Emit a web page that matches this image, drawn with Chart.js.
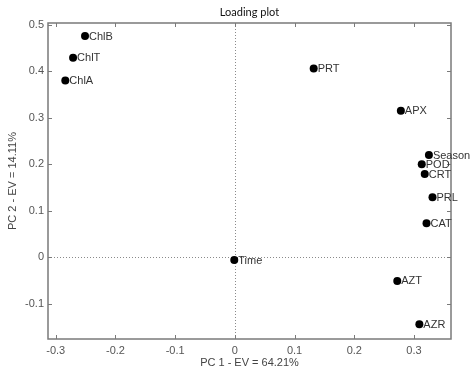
<!DOCTYPE html>
<html>
<head>
<meta charset="utf-8">
<script src="https://cdn.jsdelivr.net/npm/chart.js@4.4.0/dist/chart.umd.min.js"></script>
<style>
  html, body { margin: 0; padding: 0; background: #fff; }
  #wrap { width: 474px; height: 374px; }
</style>
</head>
<body>
<div id="wrap"><canvas id="chart" width="474" height="374"></canvas></div>
<script>
// variables del loading plot
const varNames = ['ChlB', 'ChlT', 'ChlA', 'PRT', 'APX', 'Season', 'POD', 'CRT', 'PRL', 'CAT', 'Time', 'AZT', 'AZR'];
const pc1 = [-0.251, -0.271, -0.284, 0.132, 0.278, 0.325, 0.313, 0.318, 0.331, 0.321, -0.001, 0.272, 0.309];
const pc2 = [0.476, 0.429, 0.380, 0.406, 0.315, 0.220, 0.200, 0.179, 0.129, 0.073, -0.006, -0.051, -0.144];

const xTicks = [-0.3, -0.2, -0.1, 0, 0.1, 0.2, 0.3];
const yTicks = [-0.1, 0, 0.1, 0.2, 0.3, 0.4, 0.5];

const titleText = 'Loading plot';
const xTitle = 'PC 1 - EV = 64.21%';
const yTitle = 'PC 2 - EV = 14.11%';

const points = pc1.map((x, i) => ({ x: x, y: pc2[i] }));

// draws the frame, inward ticks, zero lines, point labels and titles
const matlabStyle = {
    id: 'matlabStyle',
    beforeDatasetsDraw(chart) {
        const { ctx, chartArea: a, scales: { x, y } } = chart;
        ctx.save();
        // dotted zero lines
        ctx.strokeStyle = '#8a8a8a';
        ctx.lineWidth = 1;
        ctx.setLineDash([1, 2]);
        const x0 = Math.round(x.getPixelForValue(0)) + 0.5;
        const y0 = Math.round(y.getPixelForValue(0)) + 0.5;
        ctx.beginPath();
        ctx.moveTo(x0, a.top); ctx.lineTo(x0, a.bottom);
        ctx.moveTo(a.left, y0); ctx.lineTo(a.right, y0);
        ctx.stroke();
        ctx.setLineDash([]);

        // box
        ctx.strokeStyle = '#7a7a7a';
        ctx.lineWidth = 1.5;
        ctx.strokeRect(a.left, a.top, a.right - a.left, a.bottom - a.top);

        // inward ticks
        ctx.lineWidth = 1;
        const tl = 4;
        ctx.beginPath();
        xTicks.forEach(v => {
            const px = Math.round(x.getPixelForValue(v)) + 0.5;
            ctx.moveTo(px, a.bottom); ctx.lineTo(px, a.bottom - tl);
            ctx.moveTo(px, a.top); ctx.lineTo(px, a.top + tl);
        });
        yTicks.forEach(v => {
            const py = Math.round(y.getPixelForValue(v)) + 0.5;
            ctx.moveTo(a.left, py); ctx.lineTo(a.left + tl, py);
            ctx.moveTo(a.right, py); ctx.lineTo(a.right - tl, py);
        });
        ctx.stroke();
        ctx.restore();
    },
    afterDatasetsDraw(chart) {
        const { ctx, chartArea: a } = chart;
        const meta = chart.getDatasetMeta(0);
        ctx.save();
        ctx.font = '11px "Liberation Sans", Arial, sans-serif';
        ctx.fillStyle = '#333';
        ctx.textBaseline = 'middle';
        ctx.textAlign = 'left';
        meta.data.forEach((pt, i) => {
            ctx.fillText(varNames[i], pt.x + 4, pt.y + 0.5);
        });

        // title
        ctx.font = '11px Lato, "Open Sans", sans-serif';
        ctx.fillStyle = '#111';
        ctx.textAlign = 'center';
        ctx.fillText(titleText, (a.left + a.right) / 2, 12);

        // axis titles
        ctx.font = '11px "Liberation Sans", Arial, sans-serif';
        ctx.fillStyle = '#444';
        ctx.fillText(xTitle, (a.left + a.right) / 2, 363);
        ctx.translate(13, (a.top + a.bottom) / 2);
        ctx.rotate(-Math.PI / 2);
        ctx.fillText(yTitle, 0, 0);
        ctx.restore();
    }
};

new Chart(document.getElementById('chart'), {
    type: 'scatter',
    data: {
        datasets: [{
            data: points,
            backgroundColor: '#000',
            borderColor: '#000',
            pointRadius: 4,
            pointHoverRadius: 4,
            borderWidth: 0
        }]
    },
    options: {
        responsive: false,
        animation: false,
        layout: { padding: { top: 23, right: 23, left: 0, bottom: 0 } },
        plugins: {
            legend: { display: false },
            tooltip: { enabled: false }
        },
        scales: {
            x: {
                type: 'linear',
                min: -0.313,
                max: 0.362,
                afterBuildTicks: s => { s.ticks = xTicks.map(v => ({ value: v })); },
                afterFit: s => { s.height = 35; },
                grid: { display: false, drawTicks: false },
                border: { display: false },
                ticks: {
                    padding: 5,
                    color: '#555',
                    font: { family: '"Liberation Sans", Arial, sans-serif', size: 11 },
                    callback: v => String(v)
                }
            },
            y: {
                type: 'linear',
                min: -0.176,
                max: 0.504,
                afterBuildTicks: s => { s.ticks = yTicks.map(v => ({ value: v })); },
                afterFit: s => { s.width = 48; },
                grid: { display: false, drawTicks: false },
                border: { display: false },
                ticks: {
                    padding: 4,
                    color: '#555',
                    font: { family: '"Liberation Sans", Arial, sans-serif', size: 11 },
                    callback: v => String(v)
                }
            }
        }
    },
    plugins: [matlabStyle]
});
</script>
</body>
</html>
